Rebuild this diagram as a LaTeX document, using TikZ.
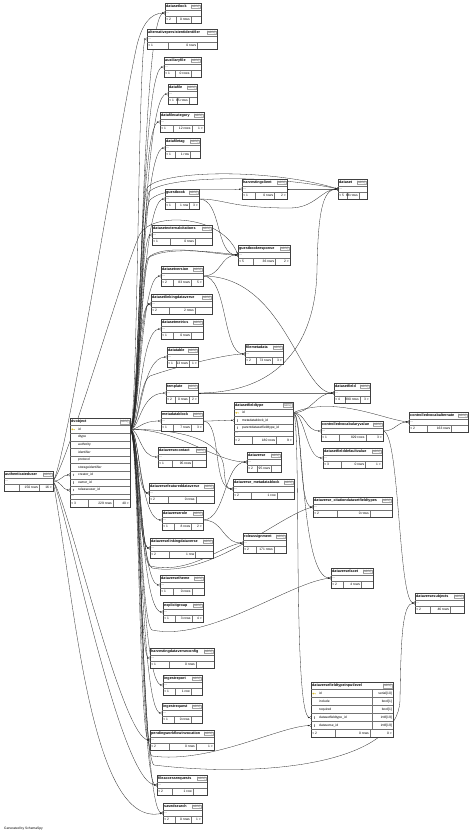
\documentclass[tikz,border=0pt]{standalone}
\usepackage{fontspec}
\setmainfont{Liberation Sans}
\usetikzlibrary{arrows.meta}
\pgfdeclarelayer{bg}
\pgfsetlayers{bg,main}
\definecolor{keyc}{RGB}{215,180,20}
\tikzset{
 tbl/.style={draw=black!75,line width=0.35pt,fill=white,inner sep=0pt,outer sep=0pt},
 sepl/.style={draw=black!55,line width=0.25pt},
 hd/.style={font=\fontsize{3.7}{4}\selectfont\bfseries,inner sep=0pt},
 tx/.style={font=\fontsize{3.3}{3.6}\selectfont,inner sep=0pt},
 tag/.style={font=\fontsize{3.1}{3.4}\selectfont,text=black!60,draw=black!35,line width=0.2pt,inner sep=0.5pt},
 fk/.style={draw=black!85,line width=0.3pt,-{Circle[open,length=1.3pt,width=1.3pt]Straight Barb[reversed,length=1.4pt,width=2.6pt]}},
}
\newcommand\stb[8]{%
 \node[tbl,minimum width=#4pt,minimum height=20pt,anchor=north west] (#1) at (#2,#3) {};
 \draw[sepl] (#2,#3+7) -- (#2+#4,#3+7) (#2,#3+13) -- (#2+#4,#3+13)
   (#2+0.3*#4,#3+13) -- (#2+0.3*#4,#3+20) (#2+0.72*#4,#3+13) -- (#2+0.72*#4,#3+20);
 \node[hd,anchor=west] (#1-n) at (#2+1,#3+3.6) {#5};
 \node[tag,anchor=east] (#1-t) at (#2+#4-0.8,#3+3.6) {[table]};
 \node[tx,anchor=west] (#1-d) at (#2+1.2,#3+10) {...};
 \node[tx,anchor=west] (#1-l) at (#2+1.2,#3+16.6) {#6};
 \node[tx,anchor=east] (#1-m) at (#2+0.72*#4-1,#3+16.6) {#7};
 \node[tx,anchor=east] (#1-r) at (#2+#4-1,#3+16.6) {#8};
}
\newcommand\keyic[2]{\draw[draw=keyc,line width=0.35pt] (#1,#2) circle[radius=0.7pt] (#1+0.7,#2) -- (#1+2.6,#2) (#1+2.2,#2) -- (#1+2.2,#2+0.8);}
\newcommand\fkic[2]{\draw[draw=black!45,line width=0.3pt,-{Stealth[length=0.9pt,width=1.1pt]}] (#1+1,#2+1.3) -- (#1+1,#2-1.3);}
\newcommand\dvl[2][139]{\draw[fk] (dvoE) .. controls (#1,429.3) and (#1,0 |- #2.west) .. (#2.west);}
\begin{document}
\begin{tikzpicture}[x=1pt,y=-1pt]
\begin{pgfonlayer}{bg}
\fill[white] (0,0) rectangle (474,836);
\end{pgfonlayer}
\useasboundingbox (0,0) rectangle (474,836);

% ---------- small tables ----------
\stb{dslock}{165}{3}{36}{datasetlock}{< 2}{0 rows}{}
\stb{altpid}{147}{29}{70}{alternativepersistentidentifier}{< 1}{0 rows}{}
\stb{auxf}{164}{57}{37}{auxiliaryfile}{< 1}{0 rows}{}
\stb{dfile}{168}{84}{29}{datafile}{< 1}{85 rows}{}
\stb{dfcat}{160}{112}{44}{datafilecategory}{< 1}{12 rows}{1 >}
\stb{dftag}{165}{138}{35}{datafiletag}{< 1}{1 row}{}
\stb{hclient}{242}{179}{45}{harvestingclient}{< 1}{0 rows}{2 >}
\stb{gbook}{165}{189}{34}{guestbook}{< 1}{1 row}{3 >}
\stb{dsext}{152}{225}{60}{datasetexternalcitations}{< 1}{0 rows}{}
\stb{gbresp}{238}{245}{52}{guestbookresponse}{< 5}{36 rows}{2 >}
\stb{dsver}{161}{266}{42}{datasetversion}{< 2}{83 rows}{5 >}
\stb{dslink}{151}{294}{61}{datasetlinkingdataverse}{< 2}{2 rows}{}
\stb{dsmet}{161}{319}{42}{datasetmetrics}{< 1}{0 rows}{}
\stb{dtable}{167}{347}{31}{datatable}{< 1}{13 rows}{1 >}
\stb{fmeta}{245}{344}{38}{filemetadata}{< 2}{73 rows}{3 >}
\stb{dset}{338}{179}{29}{dataset}{< 5}{68 rows}{}
\stb{tmpl}{166}{383}{32}{template}{< 2}{0 rows}{2 >}
\stb{mdb}{161}{411}{42}{metadatablock}{< 1}{7 rows}{3 >}
\stb{dvcont}{158}{447}{48}{dataversecontact}{< 1}{95 rows}{}
\stb{dverse}{247}{452}{34}{dataverse}{< 2}{95 rows}{}
\stb{dvmdb}{233}{479}{61}{dataverse\_metadatablock}{< 2}{1 row}{}
\stb{dvfeat}{149}{483}{65}{dataversefeatureddataverse}{< 2}{0 rows}{}
\stb{dvrole}{162}{510}{41}{dataverserole}{< 1}{8 rows}{2 >}
\stb{rassign}{243}{533}{43}{roleassignment}{< 2}{171 rows}{}
\stb{dvlink}{150}{538}{63}{dataverselinkingdataverse}{< 2}{1 row}{}
\stb{dsfield}{334}{383}{36}{datasetfield}{< 4}{890 rows}{3 >}
\stb{cvv}{321}{421}{62}{controlledvocabularyvalue}{< 1}{829 rows}{3 >}
\stb{dsfdv}{323}{448}{59}{datasetfielddefaultvalue}{< 3}{0 rows}{1 >}
\stb{dvcite}{313}{497}{79}{dataverse\_citationdatasetfieldtypes}{< 2}{0 rows}{}
\stb{cva}{409}{412}{59}{controlledvocabalternate}{< 2}{163 rows}{}
\stb{dvfacet}{331}{568}{42}{dataversefacet}{< 2}{4 rows}{}
\stb{dvsubj}{415}{593}{49}{dataversesubjects}{< 2}{46 rows}{}
\stb{dvtheme}{160}{575}{44}{dataversetheme}{< 1}{0 rows}{}
\stb{egroup}{163}{602}{40}{explicitgroup}{< 1}{3 rows}{4 >}
\stb{hdvc}{150}{648}{64}{harvestingdataverseconfig}{< 1}{0 rows}{}
\stb{ingrep}{163}{675}{39}{ingestreport}{< 1}{1 row}{}
\stb{ingreq}{162}{703}{40}{ingestrequest}{< 1}{0 rows}{}
\stb{pwi}{150}{730}{64}{pendingworkflowinvocation}{< 2}{0 rows}{1 >}
\stb{far}{157}{775}{50}{fileaccessrequests}{< 2}{1 row}{}
\stb{ssearch}{163}{803}{39}{savedsearch}{< 2}{0 rows}{1 >}
\stb{auser}{4}{471}{49}{authenticateduser}{}{150 rows}{16 >}

% ---------- dvobject ----------
\node[tbl,minimum width=60pt,minimum height=89pt,anchor=north west] (dvo) at (70,418) {};
\draw[sepl] (70,425.5) -- (130,425.5);
\foreach \k in {1,...,9} \draw[sepl] (70,425.5+7.6*\k) -- (130,425.5+7.6*\k);
\draw[sepl] (70,499.5) -- (130,499.5) (88,499.5) -- (88,507) (113,499.5) -- (113,507);
\node[hd,anchor=west] (dvo-n) at (71,421.8) {dvobject};
\node[tag,anchor=east] (dvo-t) at (129.2,421.8) {[table]};
\foreach \nm [count=\k from 0] in {id,dtype,authority,identifier,protocol,storageidentifier,creator\_id,owner\_id,releaseuser\_id}
  \node[tx,anchor=west] (dvo-c\k) at (78,429.3+7.6*\k) {\nm};
\keyic{72.3}{429.3}
\fkic{72.5}{474.9}
\fkic{72.5}{482.5}
\fkic{72.5}{490.1}
\node[tx,anchor=west] (dvo-d) at (71.2,496.7) {...};
\node[tx,anchor=west] (dvo-l) at (71.2,503.3) {< 3};
\node[tx,anchor=east] (dvo-m) at (112,503.3) {229 rows};
\node[tx,anchor=east] (dvo-r) at (129,503.3) {40 >};
\coordinate (dvoE) at (130,429.3);
\coordinate (dvoCr) at (70,474.9);
\coordinate (dvoRu) at (70,490.1);

% ---------- datasetfieldtype ----------
\node[tbl,minimum width=59pt,minimum height=42pt,anchor=north west] (dsft) at (234,402) {};
\draw[sepl] (234,409) -- (293,409) (234,416.5) -- (293,416.5) (234,424) -- (293,424)
  (234,431.5) -- (293,431.5) (234,436) -- (293,436) (251.7,436) -- (251.7,444) (276.5,436) -- (276.5,444);
\node[hd,anchor=west] (dsft-n) at (235,405.5) {datasetfieldtype};
\node[tag,anchor=east] (dsft-t) at (292.2,405.5) {[table]};
\node[tx,anchor=west] (dsft-c0) at (242,412.75) {id};
\node[tx,anchor=west] (dsft-c1) at (242,420.25) {metadatablock\_id};
\node[tx,anchor=west] (dsft-c2) at (242,427.75) {parentdatasetfieldtype\_id};
\keyic{236.3}{412.75}
\fkic{236.5}{420.25}
\fkic{236.5}{427.75}
\node[tx,anchor=west] (dsft-d) at (235.2,433.75) {...};
\node[tx,anchor=west] (dsft-l) at (235.2,440) {< 2};
\node[tx,anchor=east] (dsft-m) at (275.5,440) {180 rows};
\node[tx,anchor=east] (dsft-r) at (292,440) {9 >};
\coordinate (dsftE) at (293,412.75);
\coordinate (dsftMb) at (234,420.25);

% ---------- dataversefieldtypeinputlevel ----------
\node[tbl,minimum width=82pt,minimum height=55pt,anchor=north west] (dvftil) at (311,682) {};
\draw[sepl] (311,689.5) -- (393,689.5) (311,697.5) -- (393,697.5) (311,705.5) -- (393,705.5)
  (311,713.5) -- (393,713.5) (311,721.5) -- (393,721.5) (311,729.5) -- (393,729.5)
  (372,689.5) -- (372,729.5) (335.6,729.5) -- (335.6,737) (370,729.5) -- (370,737);
\node[hd,anchor=west] (dvftil-n) at (312,685.75) {dataversefieldtypeinputlevel};
\node[tag,anchor=east] (dvftil-t) at (392.2,685.75) {[table]};
\foreach \nm/\ty [count=\k from 0] in {id/serial[10],include/bool[1],required/bool[1],datasetfieldtype\_id/int8[19],dataverse\_id/int8[19]}{
  \node[tx,anchor=west] (dvftil-c\k) at (319,693.5+8*\k) {\nm};
  \node[tx,anchor=east] (dvftil-y\k) at (392,693.5+8*\k) {\ty};
}
\keyic{313.3}{693.5}
\fkic{313.5}{717.5}
\fkic{313.5}{725.5}
\node[tx,anchor=west] (dvftil-l) at (312.2,733.25) {< 2};
\node[tx,anchor=east] (dvftil-m) at (369,733.25) {0 rows};
\node[tx,anchor=east] (dvftil-r) at (392,733.25) {0 >};
\coordinate (dfilDft) at (311,717.5);
\coordinate (dfilDv) at (311,725.5);

\node[tx,anchor=west] (gen) at (4,829) {Generated by SchemaSpy};

% ---------- connectors ----------
\begin{pgfonlayer}{bg}
\dvl[141]{dslock}
\dvl[138]{altpid}
\dvl[140]{auxf}
\dvl[141]{dfile}
\dvl[139]{dfcat}
\dvl[140]{dftag}
\dvl[140]{gbook}
\dvl[139]{dsext}
\dvl[140]{dsver}
\dvl[139]{dslink}
\dvl[137]{dslink}
\dvl[140]{dsmet}
\dvl[141]{dtable}
\dvl[140]{tmpl}
\dvl[140]{mdb}
\dvl[140]{dvcont}
\dvl[139]{dvfeat}
\dvl[137]{dvfeat}
\dvl[140]{dvrole}
\dvl[139]{dvlink}
\dvl[137]{dvlink}
\dvl[140]{dvtheme}
\dvl[140]{egroup}
\dvl[139]{hdvc}
\dvl[140]{ingrep}
\dvl[140]{ingreq}
\dvl[139]{pwi}
\dvl[140]{far}
\dvl[141]{ssearch}
% dataset and harvestingclient
\draw[fk] (dvoE) .. controls (140,429.3) and (140,205) .. (147,188) .. controls (160,170) and (270,168) .. (dset.west);
\draw[fk] (dvoE) .. controls (141,429.3) and (141,210) .. (149,192) .. controls (163,176) and (270,174) .. (dset.west);
\draw[fk] (dvoE) .. controls (139,429.3) and (139,215) .. (150,200) .. controls (165,185) and (215,191) .. (hclient.west);
\draw[fk] (hclient.east) .. controls (310,189) and (320,189) .. (dset.west);
\draw[fk] (gbook.east) .. controls (225,199) and (230,208) .. (290,208) .. controls (315,208) and (322,189) .. (dset.west);
\draw[fk] (tmpl.east) .. controls (290,393) and (316,330) .. (317,270) .. controls (318,215) and (322,189) .. (dset.west);
% guestbookresponse
\draw[fk] (gbook.east) .. controls (222,199) and (215,255) .. (gbresp.west);
\draw[fk] (dvoE) .. controls (139,429.3) and (139,268) .. (148,258) .. controls (165,246) and (215,252) .. (gbresp.west);
\draw[fk] (dvoE) .. controls (140,429.3) and (140,266) .. (150,256) .. controls (170,243) and (215,255) .. (gbresp.west);
\draw[fk] (auser.east) .. controls (66,468) and (126,262) .. (140,234) .. controls (152,212) and (222,214) .. (gbresp.west);
\draw[fk] (dsver.east) .. controls (222,276) and (220,255) .. (gbresp.west);
% datasetversion, filemetadata, datasetfield
\draw[fk] (dsver.east) .. controls (228,276) and (222,354) .. (fmeta.west);
\draw[fk] (dsver.east) .. controls (285,276) and (300,393) .. (dsfield.west);
\draw[fk] (dvoE) .. controls (139,429.3) and (139,382) .. (150,376) .. controls (172,368) and (225,354) .. (fmeta.west);
\draw[fk] (tmpl.east) .. controls (260,393) and (300,393) .. (dsfield.west);
% metadatablock, dataverse, roles
\draw[fk] (mdb.east) .. controls (218,421) and (220,420.25) .. (dsftMb);
\draw[fk] (mdb.east) .. controls (222,421) and (212,489) .. (dvmdb.west);
\draw[fk] (dvoE) .. controls (180,429.3) and (215,462) .. (dverse.west);
\draw[fk] (dvoE) .. controls (195,429.3) and (222,445) .. (224,468) .. controls (225,482) and (226,489) .. (dvmdb.west);
\draw[fk] (dvrole.east) .. controls (226,520) and (224,462) .. (dverse.west);
\draw[fk] (dvrole.east) .. controls (224,520) and (222,543) .. (rassign.west);
\draw[fk] (dvoE) .. controls (139,429.3) and (139,560) .. (150,566) .. controls (190,575) and (222,545) .. (rassign.west);
% lower long connectors
\draw[fk] (dvoE) .. controls (140,429.3) and (140,562) .. (152,568) .. controls (210,579) and (280,515) .. (dvcite.west);
\draw[fk] (dvoE) .. controls (140,429.3) and (140,622) .. (152,630) .. controls (210,642) and (290,582) .. (dvfacet.west);
\draw[fk] (dvoE) .. controls (141,429.3) and (141,750) .. (152,756) .. controls (210,764) and (280,726) .. (dfilDv);
\draw[fk] (dvoE) .. controls (141,429.3) and (141,758) .. (154,765) .. controls (260,778) and (398,765) .. (400,700) .. controls (401,640) and (402,603) .. (dvsubj.west);
% datasetfieldtype fan
\draw[fk] (dsftE) .. controls (312,412.75) and (316,393) .. (dsfield.west);
\draw[fk] (dsftE) .. controls (335,395) and (385,420) .. (cva.west);
\draw[fk] (dsftE) .. controls (306,412.75) and (305,431) .. (cvv.west);
\draw[fk] (dsftE) .. controls (305,412.75) and (306,458) .. (dsfdv.west);
\draw[fk] (dsftE) .. controls (303,412.75) and (298,507) .. (dvcite.west);
\draw[fk] (dsftE) .. controls (304,412.75) and (300,578) .. (dvfacet.west);
\draw[fk] (dsftE) .. controls (302,412.75) and (292,717.5) .. (dfilDft);
% controlledvocabularyvalue
\draw[fk] (cvv.east) .. controls (396,431) and (396,422) .. (cva.west);
\draw[fk] (cvv.east) .. controls (400,431) and (398,603) .. (dvsubj.west);
% authenticateduser
\draw[fk] (auser.east) .. controls (62,481) and (62,474.9) .. (dvoCr);
\draw[fk] (auser.east) .. controls (62,481) and (62,490.1) .. (dvoRu);
\draw[fk] (auser.east) .. controls (66,466) and (122,110) .. (137,45) .. controls (142,25) and (150,13) .. (dslock.west);
\draw[fk] (auser.east) .. controls (68,500) and (122,740) .. (pwi.west);
\draw[fk] (auser.east) .. controls (66,505) and (120,785) .. (far.west);
\draw[fk] (auser.east) .. controls (75,600) and (90,830) .. (ssearch.west);
\end{pgfonlayer}
\end{tikzpicture}
\end{document}
